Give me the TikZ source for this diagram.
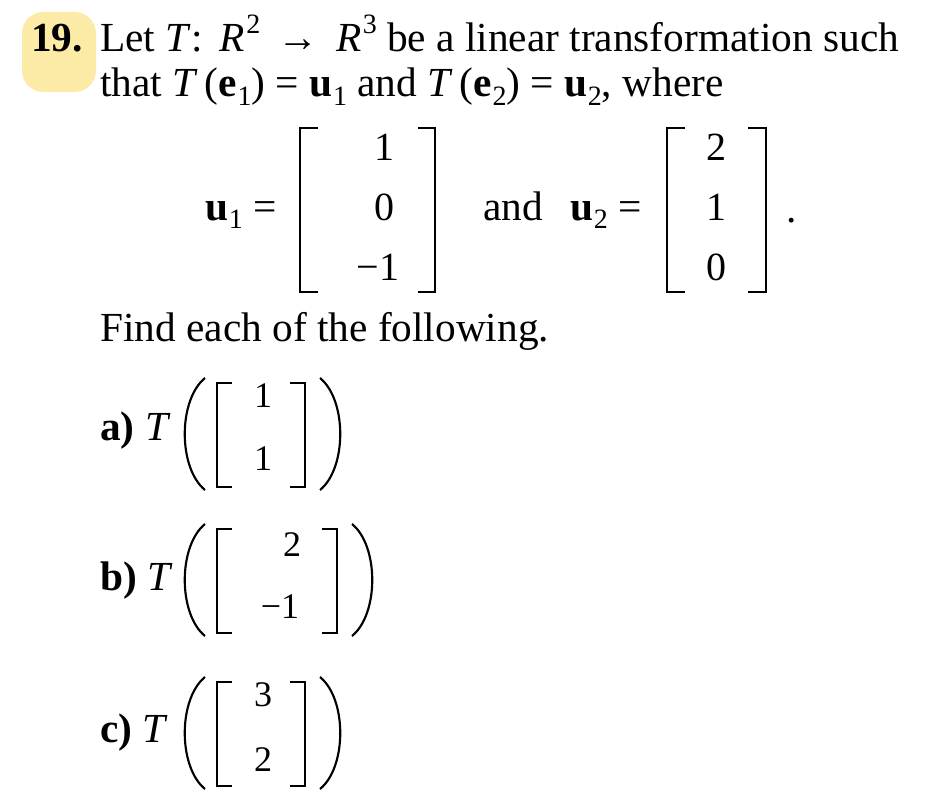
\documentclass[tikz,border=0pt]{standalone}
\usepackage{fontspec}
\setmainfont{Liberation Serif}
\definecolor{hl}{HTML}{FCEBA6}
\newcommand{\ub}[1]{\textbf{u}\kern0.5pt\raisebox{-0.2em}{\fontsize{21}{24}\selectfont #1}}
\newcommand{\eb}[1]{\textbf{e}\kern0.5pt\raisebox{-0.2em}{\fontsize{21}{24}\selectfont #1}}
\newcommand{\sq}[1]{\kern1pt\raisebox{0.45em}{\fontsize{21}{24}\selectfont #1}}
\begin{document}
\begin{tikzpicture}[x=0.75pt,y=-0.75pt,
  txt/.style={anchor=base west,inner sep=0pt,font=\fontsize{31}{36}\selectfont},
  ent/.style={anchor=base,inner sep=0pt,font=\fontsize{30}{34}\selectfont},
  sml/.style={anchor=base,inner sep=0pt,font=\fontsize{27}{30}\selectfont},
  brk/.style={line width=2.2pt},
  par/.style={line width=1.6pt}]
\useasboundingbox (0,0) rectangle (944,806);
\fill[hl, rounded corners=16pt] (22,12) rectangle (96,92);
\node[txt] (n19) at (31,52) {\textbf{19.}};
\node[txt] (l1) at (100,52) {Let \textit{T}:\, \textit{R}\sq{2} \,→\, \textit{R}\sq{3} be a linear transformation such};
\node[txt] (l2) at (100,97) {that \textit{T}\,(\eb{1}) = \ub{1} and \textit{T}\,(\eb{2}) = \ub{2}, where};
% u1
\node[txt] (u1) at (205,220) {\ub{1} =};
\draw[brk] (318,128)--(300,128)--(300,292)--(318,292);
\draw[brk] (418,128)--(435,128)--(435,292)--(418,292);
\node[ent] (a1) at (384,160) {1};
\node[ent] (a2) at (384,220) {0};
\node[ent] (a3) at (378,280) {−1};
\node[txt] (and) at (483,220) {and};
\node[txt] (u2) at (570,220) {\ub{2} =};
\draw[brk] (685,128)--(667,128)--(667,292)--(685,292);
\draw[brk] (748,128)--(766,128)--(766,292)--(748,292);
\node[ent] (b1) at (716,160) {2};
\node[ent] (b2) at (716,220) {1};
\node[ent] (b3) at (716,280) {0};
\node[txt] (dot) at (786,222) {.};
\node[txt] (find) at (100,341) {Find each of the following.};
% a
\node[txt] (pa) at (100,440) {\textbf{a)} \textit{T}};
\draw[par] (205,378) .. controls (178,400) and (178,468) .. (205,490);
\draw[brk] (232,383)--(217,383)--(217,487)--(232,487);
\node[sml] (pa1) at (263,407) {1};
\node[sml] (pa2) at (263,470) {1};
\draw[brk] (290,383)--(305,383)--(305,487)--(290,487);
\draw[par] (320,378) .. controls (347,400) and (347,468) .. (320,490);
% b
\node[txt] (pb) at (100,590) {\textbf{b)} \textit{T}};
\draw[par] (205,524) .. controls (178,546) and (178,614) .. (205,636);
\draw[brk] (232,529)--(217,529)--(217,633)--(232,633);
\node[sml] (pb1) at (292,556) {2};
\node[sml] (pb2) at (280,618) {−1};
\draw[brk] (322,529)--(337,529)--(337,633)--(322,633);
\draw[par] (352,524) .. controls (379,546) and (379,614) .. (352,636);
% c
\node[txt] (pc) at (100,742) {\textbf{c)} \textit{T}};
\draw[par] (205,677) .. controls (178,699) and (178,767) .. (205,789);
\draw[brk] (232,682)--(217,682)--(217,786)--(232,786);
\node[sml] (pc1) at (263,706) {3};
\node[sml] (pc2) at (263,771) {2};
\draw[brk] (290,682)--(305,682)--(305,786)--(290,786);
\draw[par] (320,677) .. controls (347,699) and (347,767) .. (320,789);
\end{tikzpicture}
\end{document}
